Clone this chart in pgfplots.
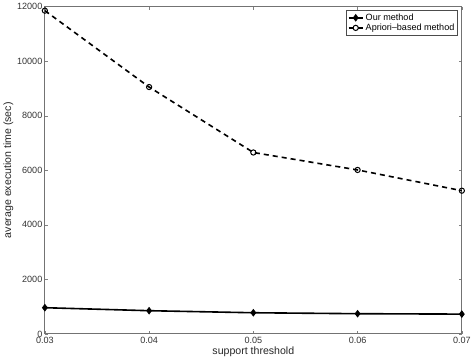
\documentclass[border=0pt]{standalone}
\usepackage{pgfplots}
\pgfplotsset{compat=1.18}
\usepackage{fontspec}
\setmainfont{Liberation Sans}
\begin{document}
\begin{tikzpicture}
\begin{axis}[
  scale only axis,
  width=414pt, height=325pt,
  xmin=0.03, xmax=0.07, ymin=0, ymax=12000,
  scaled ticks=false,
  xtick={0.03,0.04,0.05,0.06,0.07},
  ytick={0,2000,4000,6000,8000,10000,12000},
  xticklabel style={/pgf/number format/fixed,/pgf/number format/precision=2,/pgf/number format/fixed zerofill},
  yticklabel style={/pgf/number format/1000 sep={}, xshift=1pt},
  /pgf/number format/assume math mode=true,
  tick label style={font=\fontsize{9}{10}\selectfont, text=black!80},
  label style={font=\fontsize{10.5}{11}\selectfont, text=black!85},
  xlabel={support threshold},
  ylabel={average execution time (sec)},
  xlabel style={yshift=4pt},
  ylabel style={yshift=-3pt},
  tick align=inside,
  major tick length=3pt,
  axis line style={black!55, line width=1pt},
  legend style={at={(0.99,0.988)}, anchor=north east, font=\fontsize{9}{10}\selectfont, draw=black!70, line width=0.5pt, inner sep=1pt, row sep=-2pt, cells={anchor=west}},
  legend image code/.code={\draw[mark repeat=2,mark phase=2,#1] plot coordinates {(0cm,0cm) (0.25cm,0cm) (0.5cm,0cm)};},
  legend cell align=left,
]
\addplot[black, line width=1.6pt, mark=diamond*, mark size=3.2pt, mark options={solid, fill=black, line width=0.8pt}]
  coordinates {(0.03,960) (0.04,850) (0.05,775) (0.06,740) (0.07,725)};
\addlegendentry{Our method}
\addplot[black, line width=1.6pt, dashed, dash pattern=on 5pt off 4pt, mark=o, mark size=2.6pt, mark options={solid, fill=white, line width=1pt}]
  coordinates {(0.03,11850) (0.04,9050) (0.05,6650) (0.06,6010) (0.07,5250)};
\addlegendentry{Apriori--based method}
\end{axis}
\end{tikzpicture}
\end{document}
